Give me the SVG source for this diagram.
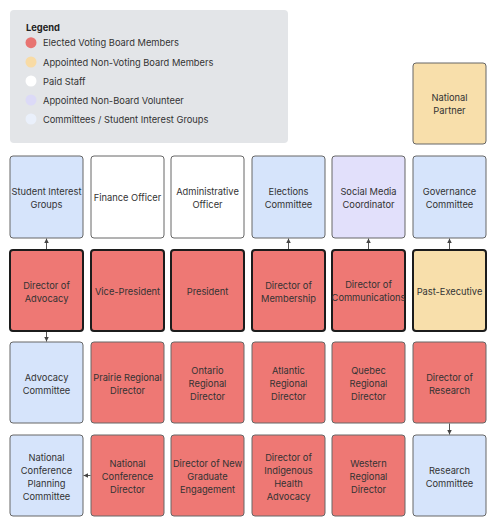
<svg xmlns="http://www.w3.org/2000/svg" width="500" height="528" viewBox="0 0 500 528">
<defs>
<style>
text{font-family:Inter,"Noto Sans","Liberation Sans",sans-serif;font-size:9.3px;fill:#333;text-anchor:middle}
.lg text{text-anchor:start}
.box{stroke:#666;stroke-width:1}
.thick{stroke:#1c1c1c;stroke-width:2}
.red{fill:#ee7874}
.yel{fill:#f8dfab}
.wht{fill:#ffffff}
.lav{fill:#e2e0fb}
.blu{fill:#d6e4fb}
.conn line{stroke:#555;stroke-width:1;marker-end:url(#ah)}
</style>
<marker id="ah" viewBox="0 0 6 6" refX="6" refY="3" markerWidth="4.5" markerHeight="4.5" orient="auto" markerUnits="userSpaceOnUse">
<path d="M0,0 L6,3 L0,6 z" fill="#444"/>
</marker>
</defs>
<rect x="0" y="0" width="500" height="528" fill="#ffffff"/>

<g id="legend" class="lg">
<rect x="10" y="10" width="278" height="133" rx="4" fill="#e3e5e8"/>
<text x="26" y="31" style="font-weight:bold;fill:#222">Legend</text>
<circle cx="31" cy="42.7" r="5.5" fill="#e87471"/>
<text x="43" y="46.2">Elected Voting Board Members</text>
<circle cx="31" cy="62" r="5.5" fill="#f8dba5"/>
<text x="43" y="65.5">Appointed Non-Voting Board Members</text>
<circle cx="31" cy="81" r="5.5" fill="#ffffff"/>
<text x="43" y="84.5">Paid Staff</text>
<circle cx="31" cy="100" r="5.5" fill="#dcdaf7"/>
<text x="43" y="103.5">Appointed Non-Board Volunteer</text>
<circle cx="31" cy="119" r="5.5" fill="#eaf0fb"/>
<text x="43" y="122.5">Committees / Student Interest Groups</text>
</g>

<g id="national-partner">
<rect class="box yel" x="413" y="63" width="73" height="81" rx="3"/>
<text x="449.5" y="100.5">National</text>
<text x="449.5" y="113.5">Partner</text>
</g>

<!-- Row 1 -->
<g id="student-interest-groups">
<rect class="box blu" x="10" y="156" width="73" height="82" rx="3"/>
<text x="46.5" y="194.5">Student Interest</text>
<text x="46.5" y="207.5">Groups</text>
</g>
<g id="finance-officer">
<rect class="box wht" x="91" y="156" width="73" height="82" rx="3"/>
<text x="127.5" y="201">Finance Officer</text>
</g>
<g id="administrative-officer">
<rect class="box wht" x="171" y="156" width="73" height="82" rx="3"/>
<text x="207.5" y="194.5">Administrative</text>
<text x="207.5" y="207.5">Officer</text>
</g>
<g id="elections-committee">
<rect class="box blu" x="252" y="156" width="73" height="82" rx="3"/>
<text x="288.5" y="194.5">Elections</text>
<text x="288.5" y="207.5">Committee</text>
</g>
<g id="social-media-coordinator">
<rect class="box lav" x="332" y="156" width="73" height="82" rx="3"/>
<text x="368.5" y="194.5">Social Media</text>
<text x="368.5" y="207.5">Coordinator</text>
</g>
<g id="governance-committee">
<rect class="box blu" x="413" y="156" width="73" height="82" rx="3"/>
<text x="449.5" y="194.5">Governance</text>
<text x="449.5" y="207.5">Committee</text>
</g>

<!-- Row 2 -->
<g id="director-of-advocacy">
<rect class="thick red" x="10" y="250" width="73" height="81" rx="3"/>
<text x="46.5" y="288.5">Director of</text>
<text x="46.5" y="301.5">Advocacy</text>
</g>
<g id="vice-president">
<rect class="thick red" x="91" y="250" width="73" height="81" rx="3"/>
<text x="127.5" y="295">Vice-President</text>
</g>
<g id="president">
<rect class="thick red" x="171" y="250" width="73" height="81" rx="3"/>
<text x="207.5" y="295">President</text>
</g>
<g id="director-of-membership">
<rect class="thick red" x="252" y="250" width="73" height="81" rx="3"/>
<text x="288.5" y="288.5">Director of</text>
<text x="288.5" y="301.5">Membership</text>
</g>
<g id="director-of-communications">
<rect class="thick red" x="332" y="250" width="73" height="81" rx="3"/>
<text x="368.5" y="287.5">Director of</text>
<text x="368.5" y="300.5">Communications</text>
</g>
<g id="past-executive">
<rect class="thick yel" x="413" y="250" width="73" height="81" rx="3"/>
<text x="449.5" y="295">Past-Executive</text>
</g>

<!-- Row 3 -->
<g id="advocacy-committee">
<rect class="box blu" x="10" y="342" width="73" height="81" rx="3"/>
<text x="46.5" y="380.5">Advocacy</text>
<text x="46.5" y="393.5">Committee</text>
</g>
<g id="prairie-regional-director">
<rect class="box red" x="91" y="342" width="73" height="81" rx="3"/>
<text x="127.5" y="380.5">Prairie Regional</text>
<text x="127.5" y="393.5">Director</text>
</g>
<g id="ontario-regional-director">
<rect class="box red" x="171" y="342" width="73" height="81" rx="3"/>
<text x="207.5" y="374">Ontario</text>
<text x="207.5" y="387">Regional</text>
<text x="207.5" y="400">Director</text>
</g>
<g id="atlantic-regional-director">
<rect class="box red" x="252" y="342" width="73" height="81" rx="3"/>
<text x="288.5" y="374">Atlantic</text>
<text x="288.5" y="387">Regional</text>
<text x="288.5" y="400">Director</text>
</g>
<g id="quebec-regional-director">
<rect class="box red" x="332" y="342" width="73" height="81" rx="3"/>
<text x="368.5" y="374">Quebec</text>
<text x="368.5" y="387">Regional</text>
<text x="368.5" y="400">Director</text>
</g>
<g id="director-of-research">
<rect class="box red" x="413" y="342" width="73" height="81" rx="3"/>
<text x="449.5" y="380.5">Director of</text>
<text x="449.5" y="393.5">Research</text>
</g>

<!-- Row 4 -->
<g id="national-conference-planning-committee">
<rect class="box blu" x="10" y="435" width="73" height="81" rx="3"/>
<text x="46.5" y="460.5">National</text>
<text x="46.5" y="473.5">Conference</text>
<text x="46.5" y="486.5">Planning</text>
<text x="46.5" y="499.5">Committee</text>
</g>
<g id="national-conference-director">
<rect class="box red" x="91" y="435" width="73" height="81" rx="3"/>
<text x="127.5" y="467">National</text>
<text x="127.5" y="480">Conference</text>
<text x="127.5" y="493">Director</text>
</g>
<g id="director-of-new-graduate-engagement">
<rect class="box red" x="171" y="435" width="73" height="81" rx="3"/>
<text x="207.5" y="467">Director of New</text>
<text x="207.5" y="480">Graduate</text>
<text x="207.5" y="493">Engagement</text>
</g>
<g id="director-of-indigenous-health-advocacy">
<rect class="box red" x="252" y="435" width="73" height="81" rx="3"/>
<text x="288.5" y="460.5">Director of</text>
<text x="288.5" y="473.5">Indigenous</text>
<text x="288.5" y="486.5">Health</text>
<text x="288.5" y="499.5">Advocacy</text>
</g>
<g id="western-regional-director">
<rect class="box red" x="332" y="435" width="73" height="81" rx="3"/>
<text x="368.5" y="467">Western</text>
<text x="368.5" y="480">Regional</text>
<text x="368.5" y="493">Director</text>
</g>
<g id="research-committee">
<rect class="box blu" x="413" y="435" width="73" height="81" rx="3"/>
<text x="449.5" y="473.5">Research</text>
<text x="449.5" y="486.5">Committee</text>
</g>

<g id="connectors" class="conn">
<line x1="46.5" y1="249" x2="46.5" y2="238.5"/>
<line x1="46.5" y1="332" x2="46.5" y2="341.5"/>
<line x1="288.5" y1="249" x2="288.5" y2="238.5"/>
<line x1="368.5" y1="249" x2="368.5" y2="238.5"/>
<line x1="449.5" y1="249" x2="449.5" y2="238.5"/>
<line x1="449.5" y1="423.5" x2="449.5" y2="434.5"/>
<line x1="90.5" y1="475.5" x2="83.5" y2="475.5"/>
</g>
</svg>
